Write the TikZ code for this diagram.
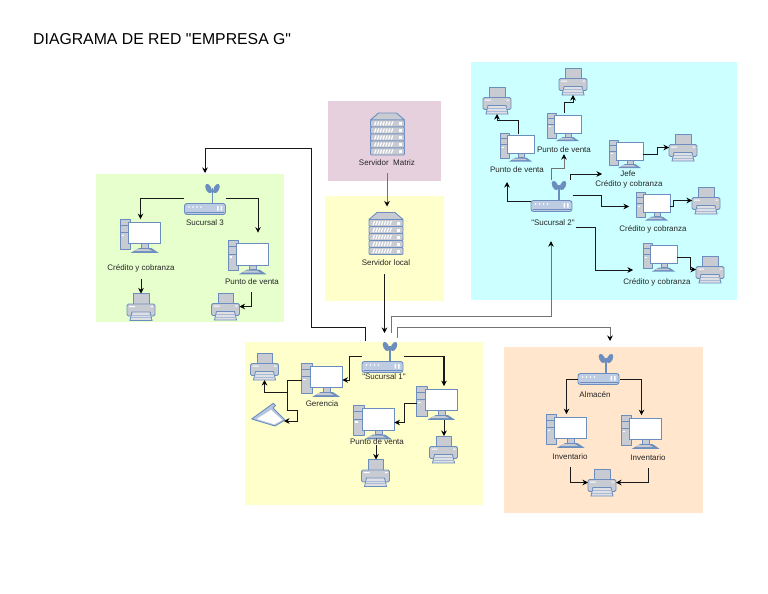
\documentclass[tikz,border=0pt]{standalone}
\usepackage{fontspec}
\setmainfont{Liberation Sans}[Ligatures=TeXOff]
\usetikzlibrary{arrows.meta}

\definecolor{iconline}{HTML}{6C8EBF}
\definecolor{iconfill}{HTML}{C9CBD2}
\definecolor{bgcyan}{HTML}{CCFFFF}
\definecolor{bgpink}{HTML}{E6D0DE}
\definecolor{bgyellow}{HTML}{FFFFCC}
\definecolor{bggreen}{HTML}{E6FFCC}
\definecolor{bgorange}{HTML}{FFE6CC}

\tikzset{
  iconbox/.style={inner sep=0pt,outer sep=0pt,transform shape},
  icon/.style={draw=iconline,line width=.9pt,fill=iconfill,line join=round},
  label/.style={font=\fontsize{8}{9.5}\selectfont,inner sep=1pt,align=center,text=black!85},
  link/.style={draw=black!90,line width=.9pt,-{Stealth[length=5.5pt,width=5.5pt,color=black]}},
  faint/.style={link,draw=black!55},
  computer/.pic={
    \node[iconbox,minimum width=34pt,minimum height=28pt] (-b) at (0,0) {};
    \draw[icon] (-17,-14) rectangle (-8,11);
    \draw[icon,line width=.5pt] (-17,-9) -- (-8,-9) (-17,-3) -- (-8,-3);
    \fill[white] (-15.5,-1) rectangle (-13.5,0);
    \fill[iconline] (-1,10) -- (9,10) -- (15,14) -- (-8,14) -- cycle;
    \draw[icon] (1,6) rectangle (7,10);
    \draw[draw=iconline,line width=.9pt,fill=white] (-10,-11.7) rectangle (17,6.3);
    \fill[iconfill] (-3,11) -- (7,11) -- (10,12.5) -- (-5,12.5) -- cycle;
  },
  printer/.pic={
    \node[iconbox,minimum width=28pt,minimum height=27pt] (-b) at (0,0) {};
    \draw[icon] (-7.5,-13.5) rectangle (8,-2);
    \draw[icon,rounded corners=1.5pt] (-14,-3) rectangle (14,9);
    \draw[draw=iconline,line width=.9pt,fill=iconfill!60!white] (-9,5) -- (9,5) -- (11,13.5) -- (-11,13.5) -- cycle;
    \draw[iconline!60,line width=.5pt] (-9.5,8) -- (9.5,8) (-10,10.5) -- (10,10.5);
    \fill[white] (-12,-1) rectangle (-6,0) (9.5,-1) rectangle (12,0);
  },
  server/.pic={
    \node[iconbox,minimum width=34pt,minimum height=42pt] (-b) at (0,0) {};
    \draw[icon] (-9,-21) -- (9,-21) -- (17,-14) -- (-17,-14) -- cycle;
    \foreach \r in {0,...,4} {
      \draw[icon,rounded corners=1pt] (-17,{-14+7*\r}) rectangle (17,{-7+7*\r});
      \foreach \h in {0,...,6}
        \draw[white,line width=1.2pt] ({-13+2.8*\h},{-8.5+7*\r}) -- ({-11.5+2.8*\h},{-12.5+7*\r});
      \fill[white] (11,{-12+7*\r}) rectangle (14,{-9+7*\r});
    }
  },
  router/.pic={
    \node[iconbox,minimum width=42pt,minimum height=31pt] (-b) at (0,0) {};
    \fill[iconline] (6.8,-11) rectangle (8.2,5);
    \fill[iconline,rotate around={25:(3.5,-10)}] (3.5,-10) ellipse (2.8 and 5);
    \fill[iconline,rotate around={-25:(11.5,-10)}] (11.5,-10) ellipse (2.8 and 5);
    \fill[iconline] (4,-9) -- (11,-9) -- (8,-5.5) -- (7,-5.5) -- cycle;
    \draw[draw=iconline,line width=.9pt,fill=iconline!45!white,rounded corners=2.5pt] (-20.5,5) rectangle (20.5,16);
    \draw[iconline,line width=.9pt] (-19,13.5) -- (19,13.5);
    \foreach \d in {0,...,3}
      \fill[white] ({-16+4*\d},8.5) circle (.8);
    \fill[white] (12,7.5) rectangle (13.5,12) (15.5,7.5) rectangle (17,12);
  },
  scanner/.pic={
    \node[iconbox,minimum width=33pt,minimum height=24pt] (-b) at (0,0) {};
    \draw[draw=iconline,line width=.9pt,fill=iconline!50!white,line join=round] (-15.8,4) -- (5.8,-11.7) -- (8,-9.5) -- (5.5,-7) -- (17.5,5) -- (7.5,11) -- cycle;
    \fill[white] (-10.8,4) -- (3.5,-5) -- (14.8,5) -- (6.8,9.3) -- cycle;
  },
}

\begin{document}
\begin{tikzpicture}[x=1pt,y=-1pt]
  \useasboundingbox (0,0) rectangle (768,594);

  % panels
  \fill[bgcyan] (471,62) rectangle (737,300);
  \fill[bgpink] (328,101) rectangle (441,181);
  \fill[bgyellow] (325,196) rectangle (444,301);
  \fill[bggreen] (96,174) rectangle (284,322);
  \fill[bgyellow] (245,342) rectangle (483,505);
  \fill[bgorange] (504,347) rectangle (703,513);

  \node[anchor=west,inner sep=0pt,font=\fontsize{15.8}{18}\selectfont] (title) at (33,39) {DIAGRAMA DE RED "EMPRESA G"};

  % servers
  \pic (sM) at (387.5,134) {server};
  \pic (sL) at (386,233.5) {server};
  \node[label] (lSM) at (387,163) {Servidor\ \ Matriz};
  \node[label] (lSL) at (386,263) {Servidor local};

  % Sucursal 2
  \pic (r2) at (551.5,195.5) {router};
  \pic (c21) at (517,147.5) {computer};
  \pic (c22) at (564,127) {computer};
  \pic (c23) at (626,154) {computer};
  \pic (c24) at (653,206.5) {computer};
  \pic (c25) at (660,257.5) {computer};
  \pic (p21) at (497,100.5) {printer};
  \pic (p22) at (573,81.5) {printer};
  \pic (p23) at (683,147.5) {printer};
  \pic (p24) at (706,200.5) {printer};
  \pic (p25) at (710,269.5) {printer};
  \node[label] (lr2) at (553,223) {"Sucursal 2"};
  \node[label] (l21) at (517,170) {Punto de venta};
  \node[label] (l22) at (564,150) {Punto de venta};
  \node[label] (l23a) at (628,174) {Jefe};
  \node[label] (l23b) at (629,184) {Crédito y cobranza};
  \node[label] (l24) at (653,229) {Crédito y cobranza};
  \node[label] (l25) at (657,282) {Crédito y cobranza};

  % Sucursal 3
  \pic (r3) at (205,198.5) {router};
  \pic[scale=1.2] (c31) at (140.5,236) {computer};
  \pic[scale=1.2] (c32) at (248.5,257.5) {computer};
  \pic (p31) at (141,307) {printer};
  \pic (p32) at (225.5,306.5) {printer};
  \node[label] (lr3) at (205,223) {Sucursal 3};
  \node[label] (l31) at (141,268) {Crédito y cobranza};
  \node[label] (l32) at (252,282) {Punto de venta};

  % Sucursal 1
  \pic (r1) at (382.5,356.5) {router};
  \pic[scale=1.2] (cG) at (322,380) {computer};
  \pic[scale=1.2] (cR) at (437,403) {computer};
  \pic[scale=1.2] (cV) at (374,422.5) {computer};
  \pic (p11) at (264.5,366.5) {printer};
  \pic (pR) at (443.5,449.5) {printer};
  \pic (pV) at (375.5,473) {printer};
  \pic (sc) at (267.5,415) {scanner};
  \node[label] (lr1) at (384,377) {"Sucursal 1"};
  \node[label] (lG) at (322,404) {Gerencia};
  \node[label] (lV) at (377,442) {Punto de venta};

  % Almacen
  \pic (r4) at (598.5,368.5) {router};
  \pic[scale=1.2] (c41) at (566.5,431) {computer};
  \pic[scale=1.2] (c42) at (641.5,432) {computer};
  \pic (p4) at (602,482.5) {printer};
  \node[label] (lr4) at (595,395) {Almacén};
  \node[label] (l41) at (570,457) {Inventario};
  \node[label] (l42) at (648,458) {Inventario};

  % free ends
  \coordinate (a21) at (507,182);
  \coordinate (a23) at (602,174);

  % connectors: servers
  \draw[faint] ([yshift=-6pt]lSM.south) -- ([xshift=1pt,yshift=6pt]sL-b.north);
  \draw[link] ([xshift=-1.5pt,yshift=-7pt]lSL.south) -- ([xshift=2pt,yshift=8pt]r1-b.north);

  % connectors: between sites
  \draw[link] ([xshift=-17.5pt]r1-b.north) -- ++(0,-14) -- ++(-54,0) -- ++(0,-179) -| ([yshift=10pt]r3-b.north);
  \draw[faint] ([xshift=8.5pt,yshift=8pt]r1-b.north) -- ++(0,-17) -| ([xshift=-2pt,yshift=-14pt]lr2.south);
  \draw[faint] ([xshift=14.5pt,yshift=3pt]r1-b.north) -- ++(0,-11) -| ([xshift=11.5pt,yshift=12pt]r4-b.north);

  % connectors: Sucursal 2
  \draw[link] ([yshift=-5.5pt]r2-b.west) -| (a21);
  \draw[link] ([xshift=1pt]c21-b.north) -- ++(0,-13) -| (p21-b.south);
  \draw[faint] (r2-b.north) -- ++(0,-12) -| (l22.south);
  \draw[link] (c22-b.north) -- ++(0,-11) -| (p22-b.south);
  \draw[link] ([xshift=18.5pt]r2-b.north) |- (a23);
  \draw[link] (c23-b.east) -- ++(14,0) |- (p23-b.west);
  \draw[link] (r2-b.east) -- ++(28.5,0) |- ([xshift=-7pt]c24-b.west);
  \draw[link] (c24-b.east) -- ++(3,0) |- (p24-b.west);
  \draw[link] ([yshift=-4pt]lr2.east) -- ++(20,0) |- ([xshift=-10pt,yshift=-12.5pt]c25-b.west);
  \draw[link] (c25-b.east) -- ++(13,0) |- (p25-b.west);

  % connectors: Sucursal 3
  \draw[link] (r3-b.west) -| (c31-b.north);
  \draw[link] (r3-b.east) -| ([xshift=9.5pt,yshift=8pt]c32-b.north);
  \draw[link] ([yshift=-6pt]l31.south) -- (p31-b.north);
  \draw[link] ([xshift=-1pt,yshift=-6pt]l32.south) |- (p32-b.east);

  % connectors: Sucursal 1
  \draw[link] (r1-b.west) -- ++(-12,0) |- (cG-b.east);
  \draw[link] (cG-b.west) -- ++(-14,0) -- ++(0,12) -| (p11-b.south);
  \draw[link] (cG-b.west) -- ++(-14,0) -- ++(0,30) -- ++(10,0) |- ([yshift=-6pt]sc-b.east);
  \draw[link,line width=1.3pt] (r1-b.east) -| ([xshift=7pt]cR-b.north);
  \draw[link] (cR-b.west) -- ++(-12.6,0) |- (cV-b.east);
  \draw[link] ([xshift=7pt]cR-b.south) -- ([xshift=.5pt]pR-b.north);
  \draw[link] ([xshift=-1pt,yshift=-3pt]lV.center) -- ([xshift=.5pt]pV-b.north);

  % connectors: Almacen
  \draw[link] ([yshift=-11pt]r4-b.west) -| (c41-b.north);
  \draw[link] ([yshift=-11pt]r4-b.east) -| (c42-b.north);
  \draw[link] ([yshift=-6pt]l41.south) |- (p4-b.west);
  \draw[link] ([yshift=-6pt]l42.south) |- (p4-b.east);
\end{tikzpicture}
\end{document}
